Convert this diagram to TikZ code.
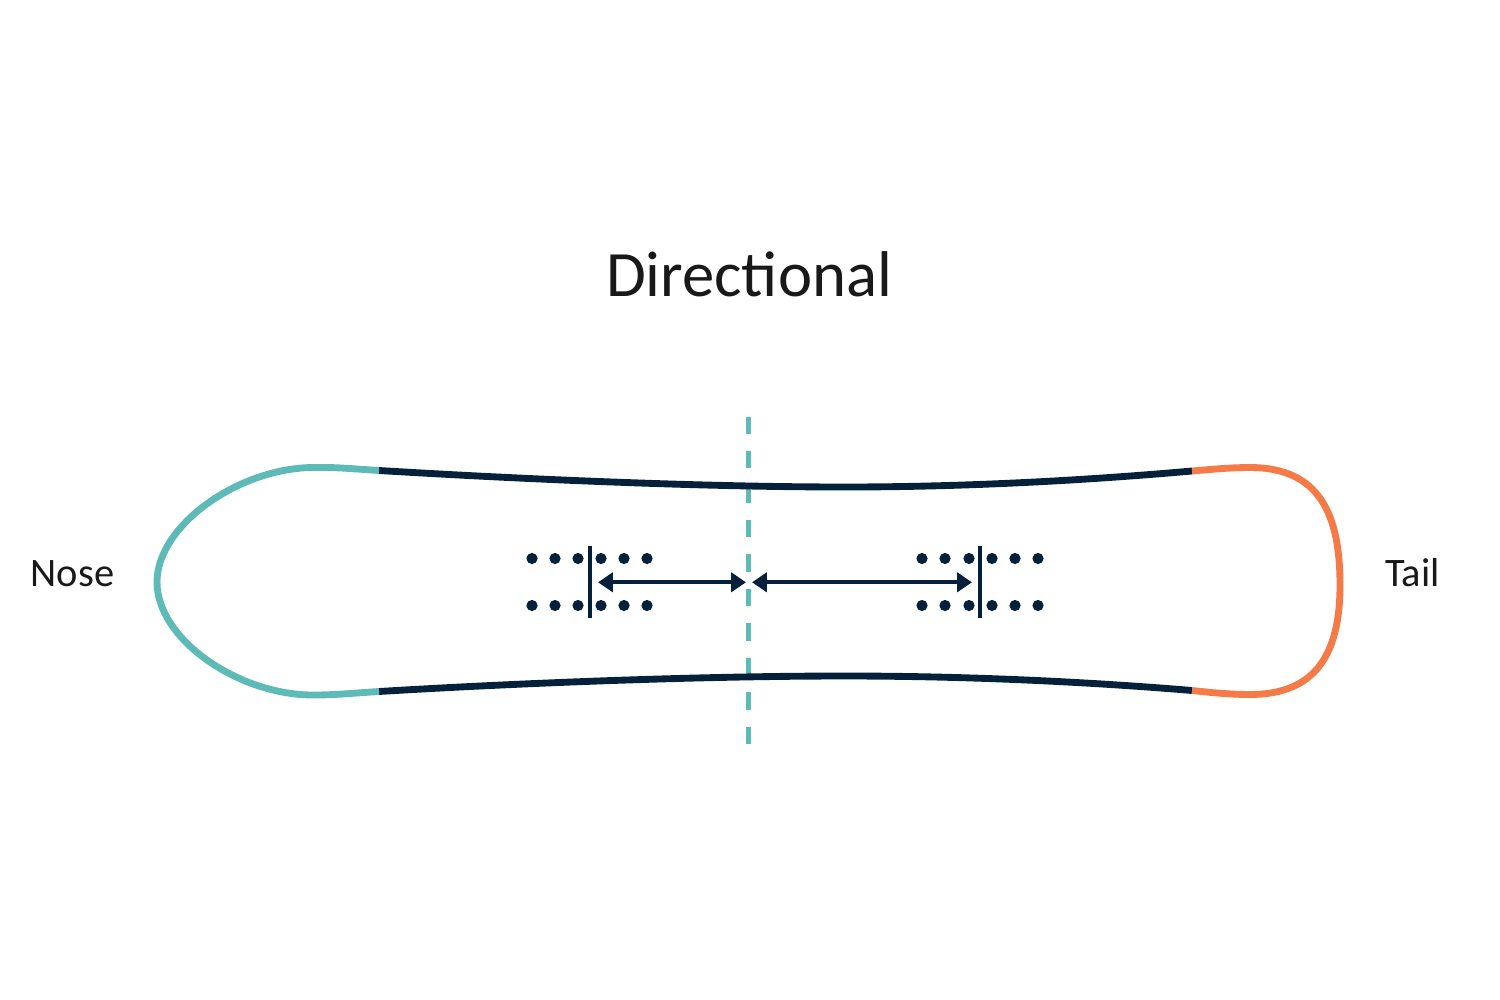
\documentclass[tikz,border=0pt]{standalone}
\usepackage{fontspec}
\setmainfont{Carlito}
\usetikzlibrary{arrows.meta,calc}
\definecolor{boardnavy}{HTML}{04203A}
\definecolor{noseteal}{HTML}{5DBAB6}
\definecolor{tailorange}{HTML}{F47B47}
\tikzset{
	edgeline/.style = {line width=1.95pt},
	centerline/.style = {noseteal, line width=1.35pt, dash pattern=on 4.95pt off 4.85pt},
	stance/.style = {boardnavy, line width=1.15pt, {Triangle[length=4.2pt,width=5.4pt]}-{Triangle[length=4.2pt,width=5.4pt]}},
	insert/.style = {boardnavy, line width=1.2pt},
	label/.style = {anchor=base, inner sep=0pt, text=black!90}
}

\begin{document}
\begin{tikzpicture}[x=0.01cm, y=-0.01cm]
		\useasboundingbox (0,0) rectangle (1500,1000);
		\node[label, font=\fontsize{18.4}{22}\selectfont] (title) at (749,296.5) {Directional};
		\node[label, font=\fontsize{11.5}{14}\selectfont] (nose) at (72.5,586) {Nose};
		\node[label, font=\fontsize{11.5}{14}\selectfont] (tail) at (1412.5,586) {Tail};
		% centre line
		\coordinate (C1) at (748.5,416.5);
		\coordinate (C2) at (748.5,745);
		\draw[centerline] (C1) -- (C2);
		% sides of the board
		\draw[edgeline, boardnavy] (379,470.5) .. controls (520,479) and (700,487) .. (845,487)
			.. controls (970,487) and (1090,480) .. (1192,471);
		\draw[edgeline, boardnavy] (379,691.5) .. controls (520,683) and (700,676) .. (845,676)
			.. controls (970,676) and (1090,682) .. (1192,690.5);
		% nose and tail
		\draw[edgeline, noseteal] (379,470.5) .. controls (355,469) and (335,467) .. (315,467.5)
			.. controls (240,467) and (157,525) .. (157,582)
			.. controls (157,640) and (240,696) .. (315,695)
			.. controls (335,695) and (355,693) .. (379,691.5);
		\draw[edgeline, tailorange] (1192,471) .. controls (1210,469.5) and (1230,467.5) .. (1250,467.5)
			.. controls (1320,467.5) and (1340,515) .. (1340,585)
			.. controls (1340,655) and (1315,694.5) .. (1250,694.5)
			.. controls (1230,694.5) and (1210,692.5) .. (1192,690.5);
		% inserts
		\foreach \x in {532,555,578,601,624,647,922,945,969,992,1015,1038} {
			\foreach \y in {558.5,605.5} {
				\fill[boardnavy] (\x,\y) circle (5.6);
			}
		}
		\coordinate (L1) at (589.7,546);
		\coordinate (L2) at (589.7,618);
		\coordinate (R1) at (980.3,546);
		\coordinate (R2) at (980.3,618);
		\draw[insert] (L1) -- (L2);
		\draw[insert] (R1) -- (R2);
		% stance arrows
		\coordinate (A1) at (598,582.3);
		\coordinate (A2) at (746,582.3);
		\coordinate (A3) at (752,582.3);
		\coordinate (A4) at (972,582.3);
		\draw[stance] (A1) -- (A2);
		\draw[stance] (A3) -- (A4);
	\end{tikzpicture}
\end{document}
